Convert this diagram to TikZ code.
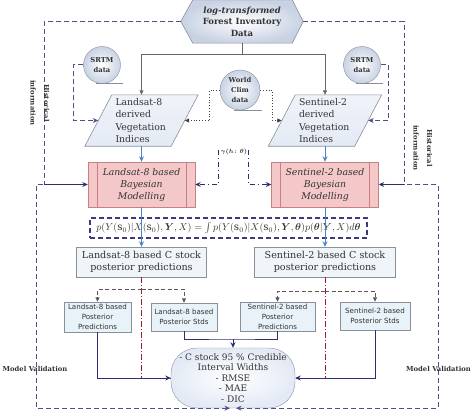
\documentclass[tikz,border=0pt]{standalone}
\usepackage{amsmath,bm}
\usepackage{fontspec}
\setmainfont{DejaVu Serif}
\setsansfont{DejaVu Sans}
\usetikzlibrary{arrows.meta,shapes.misc,backgrounds,calc}
\newcommand{\fsz}[2]{\fontsize{#1}{#2}\selectfont}
\definecolor{navy}{HTML}{2E2E6E}
\definecolor{navyd}{HTML}{50508A}
\definecolor{eqnavy}{HTML}{3A3A80}
\definecolor{arrblue}{HTML}{4F81C7}
\definecolor{ddred}{HTML}{9B1B30}
\definecolor{txt}{HTML}{333333}
\definecolor{bordgray}{HTML}{8A8F9A}
\definecolor{parfill}{HTML}{E4EAF5}
\definecolor{pinkfill}{HTML}{F4C8C8}
\definecolor{pinkbord}{HTML}{C98080}
\definecolor{predfill}{HTML}{EFF5F9}
\definecolor{smallfill}{HTML}{E8F3F9}
\definecolor{circout}{HTML}{C8D2E3}
\tikzset{
  every node/.style={text=txt},
  hexnode/.style={inner sep=0pt, minimum width=122pt, minimum height=43pt, align=center, font=\bfseries\fsz{8.5}{11.5}},
  circnode/.style={circle, draw=bordgray, inner color=white, outer color=circout, inner sep=0pt, align=center, font=\bfseries\fsz{6.8}{10}},
  tailline/.style={draw=bordgray, line width=0.6pt},
  paranode/.style={minimum height=51pt, text width=52pt, inner xsep=17pt, inner ysep=0pt, align=left, font=\fsz{9.3}{12.3}},
  parashape/.style={draw=bordgray, line width=0.6pt, top color=parfill!60!white, bottom color=parfill},
  bayes/.style={draw=pinkbord, fill=pinkfill, minimum width=107pt, minimum height=45pt, inner sep=0pt, align=center, font=\itshape\fsz{9.3}{12}},
  eqbox/.style={draw=eqnavy, line width=1.3pt, dash pattern=on 5pt off 3pt, minimum width=277pt, minimum height=20pt, inner sep=0pt},
  prednode/.style={draw=bordgray, fill=predfill, minimum height=30pt, inner sep=0pt, align=center, font=\fsz{9.6}{12}},
  smallnode/.style={draw=bordgray, fill=smallfill, inner sep=0pt, align=center, font=\sffamily\fsz{7.1}{10}},
  ellnode/.style={draw=bordgray, rounded corners=26pt, minimum width=124pt, minimum height=60pt, inner sep=0pt, align=center, inner color=white, outer color=parfill, font=\fsz{9}{10.5}},
  lbl/.style={font=\bfseries\fsz{6.8}{13.5}, align=center, inner sep=0pt},
  gline/.style={draw=gray!80!black, line width=0.6pt},
  gtip/.style={-{Triangle[length=4.5pt,width=4pt]}},
  navytip/.style={-{Stealth[length=5.5pt,width=5pt]}},
  navydash/.style={draw=navyd, line width=1pt, dash pattern=on 5pt off 3pt},
  navysolid/.style={draw=navy, line width=0.9pt},
  dotline/.style={draw=black!75, line width=0.8pt, dotted},
  bluearr/.style={draw=arrblue, line width=1pt, -{Stealth[length=5.5pt,width=5pt]}},
  redline/.style={draw=ddred, line width=1pt, dash pattern=on 6pt off 2pt on 1pt off 2pt},
  gdash/.style={draw=black!65, line width=0.9pt, dash pattern=on 4pt off 2.5pt},
  gamline/.style={draw=navy, line width=0.9pt, dash pattern=on 5pt off 3pt on 1pt off 3pt},
}
\begin{document}
\begin{tikzpicture}[x=1pt,y=-1pt]
\useasboundingbox (0,0) rectangle (474,412);

% ---------- nodes ----------
\node[hexnode] (fi) at (242,21.5) {\textit{log-transformed}\\Forest Inventory\\Data};
\node[circnode, minimum size=37pt] (sL) at (102,65) {SRTM\\data};
\node[circnode, minimum size=37pt] (sR) at (362,65) {SRTM\\data};
\node[circnode, minimum size=40pt, font=\bfseries\fsz{6.8}{9.8}] (wc) at (240,90) {World\\Clim\\data};
\node[paranode] (ls) at (141.5,120.5) {Landsat-8\\derived\\Vegetation\\Indices};
\node[paranode] (sn) at (325,120.5) {Sentinel-2\\derived\\Vegetation\\Indices};
\node[bayes] (lb) at (141.5,184.5) {Landsat-8 based\\Bayesian\\Modelling};
\node[bayes] (rb) at (325,184.5) {Sentinel-2 based\\Bayesian\\Modelling};
\node[inner sep=0pt, font=\fsz{6}{7}] (gam) at (234,152) {$\bm{\gamma(h\colon\theta)}$};
\node[eqbox] (eq) at (228.5,228) {\fsz{10.3}{12}$p(Y(\mathrm{s}_0)|X(\mathrm{s}_0),\bm{Y},X)=\int p(Y(\mathrm{s}_0)|X(\mathrm{s}_0),\bm{Y},\bm{\theta})p(\bm{\theta}|\bm{Y},X)d\bm{\theta}$};
\node[prednode, minimum width=130pt] (pl) at (141.5,262) {Landsat-8 based C stock\\posterior predictions};
\node[prednode, minimum width=141pt] (pr) at (325,262) {Sentinel-2 based C stock\\posterior predictions};
\node[smallnode, minimum width=67pt, minimum height=30pt] (b1) at (97.5,317) {Landsat-8 based\\Posterior\\Predictions};
\node[smallnode, minimum width=66pt, minimum height=28pt] (b2) at (184,317) {Landsat-8 based\\Posterior Stds};
\node[smallnode, minimum width=75pt, minimum height=29pt] (b3) at (277.5,316.5) {Sentinel-2 based\\Posterior\\Predictions};
\node[smallnode, minimum width=70pt, minimum height=28pt] (b4) at (375,316) {Sentinel-2 based\\Posterior Stds};
\node[ellnode] (ell) at (233,378) {- C stock 95 \% Credible\\Interval Widths\\- RMSE\\- MAE\\- DIC};

% ---------- background shapes ----------
\begin{pgfonlayer}{background}
\path[draw=bordgray, line width=0.6pt, inner color=white, outer color=circout]
  (fi.west) -- ([xshift=12pt]fi.north west) -- ([xshift=-11pt]fi.north east) -- (fi.east)
  -- ([xshift=-11pt]fi.south east) -- ([xshift=12pt]fi.south west) -- cycle;
\path[parashape] ([xshift=13.5pt]ls.north west) -- ([xshift=13.5pt]ls.north east)
  -- ([xshift=-13.5pt]ls.south east) -- ([xshift=-13.5pt]ls.south west) -- cycle;
\path[parashape] ([xshift=13.5pt]sn.north west) -- ([xshift=13.5pt]sn.north east)
  -- ([xshift=-13.5pt]sn.south east) -- ([xshift=-13.5pt]sn.south west) -- cycle;
\end{pgfonlayer}

% inner lines of Bayesian boxes
\draw[pinkbord, line width=0.6pt] ([xshift=9pt]lb.north west) -- ([xshift=9pt]lb.south west);
\draw[pinkbord, line width=0.6pt] ([xshift=-9pt]lb.north east) -- ([xshift=-9pt]lb.south east);
\draw[pinkbord, line width=0.6pt] ([xshift=9pt]rb.north west) -- ([xshift=9pt]rb.south west);
\draw[pinkbord, line width=0.6pt] ([xshift=-9pt]rb.north east) -- ([xshift=-9pt]rb.south east);

% tails of stored-data circles
\draw[tailline] ([xshift=-6pt]sL.south) -- ([xshift=21pt]sL.south);
\draw[tailline] ([xshift=-6pt]sR.south) -- ([xshift=21pt]sR.south);
\draw[tailline] ([xshift=-6pt]wc.south) -- ([xshift=22pt]wc.south);

% ---------- coordinates ----------
\coordinate (hl) at (44,184.5);
\coordinate (hr) at (404,184.5);
\coordinate (mvl) at (36,184.5);
\coordinate (mvr) at (438,184.5);
\coordinate (gl) at (218,150);
\coordinate (gr) at (248,150);
\coordinate (brL) at (141.5,289);
\coordinate (brR) at (325,291);
\coordinate (mid) at (233,339);

% ---------- connectors ----------
\draw[gline] (fi.south) -- ++(0,11) coordinate (fj);
\draw[gline, gtip] (fj) -| (ls.north);
\draw[gline, gtip] (fj) -| (sn.north);

\draw[navydash, navytip] (sL.west) -- ++(-10,0) |- (ls.west);
\draw[navydash, navytip] (sR.east) -- ++(8,0) |- (sn.east);

\draw[dotline, gtip] (wc.west) -- ++(-10,0) |- (ls.east);
\draw[dotline, gtip] (wc.east) -- ++(12,0) |- (sn.west);

\draw[bluearr] (ls.south) -- (lb.north);
\draw[bluearr] (sn.south) -- (rb.north);
\draw[bluearr] (lb.south) -- (pl.north);
\draw[bluearr] (rb.south) -- (pr.north);

\draw[gamline, navytip] (gl) |- (lb.east);
\draw[gamline, navytip] (gr) |- (rb.west);

\draw[navydash] (fi.west) -| (hl);
\draw[navydash] (fi.east) -| (hr);
\draw[navydash, {Stealth[length=5.5pt,width=5pt]}-] ([xshift=-3pt]ell.south) -| (mvl) -- (hl);
\draw[navydash, {Stealth[length=5.5pt,width=5pt]}-] ([xshift=3pt]ell.south) -| (mvr) -- (hr);
\draw[navysolid, navytip] (hl) -- (lb.west);
\draw[navysolid, navytip] (hr) -- (rb.east);

\draw[redline] (pl.south) |- (ell.west);
\draw[redline] (pr.south) |- (ell.east);

\draw[gdash, gtip] (brL) -| (b1.north);
\draw[gdash, gtip] (brL) -| (b2.north);
\draw[gdash, gtip] (brR) -| (b3.north);
\draw[gdash, gtip] (brR) -| (b4.north);

\draw[navysolid, navytip] (b1.south) |- (ell.west);
\draw[navysolid, navytip] (b4.south) |- (ell.east);
\draw[navysolid] (b2.south) |- (mid) -| (b3.south);
\draw[navysolid, navytip] (mid) -- (ell.north);

% ---------- labels ----------
\node[lbl, rotate=-90] (hiL) at (40,103) {Historical\\information};
\node[lbl, rotate=-90] (hiR) at (423,148) {Historical\\information};
\node[lbl] (mvtL) at (35,369) {Model Validation};
\node[lbl] (mvtR) at (438.5,369) {Model Validation};
\end{tikzpicture}
\end{document}
